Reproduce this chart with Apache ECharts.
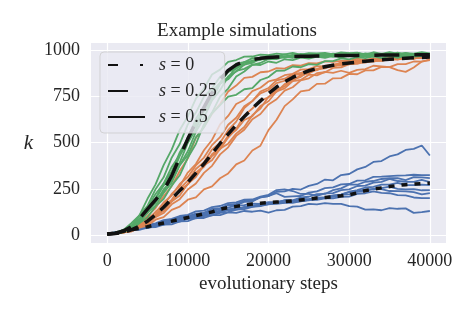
<!DOCTYPE html>
<html>
<head>
<meta charset="utf-8">
<script src="https://cdn.jsdelivr.net/npm/echarts@6/dist/echarts.min.js"></script>
<style>
    html, body { margin: 0; padding: 0; background: #ffffff; }
    #chart { width: 474px; height: 316px; }
</style>
</head>
<body>
<div id="chart"></div>
<script>
// ============================================
// Example simulations — k vs evolutionary steps
// ============================================

const steps = [0, 1000, 2000, 3000, 4000, 5000, 6000, 7000, 8000, 9000, 10000,
    11000, 12000, 13000, 14000, 15000, 16000, 17000, 18000, 19000, 20000,
    21000, 22000, 23000, 24000, 25000, 26000, 27000, 28000, 29000, 30000,
    31000, 32000, 33000, 34000, 35000, 36000, 37000, 38000, 39000, 40000];

const xTicks = [0, 10000, 20000, 30000, 40000];
const yTicks = [0, 250, 500, 750, 1000];

// s = 0 runs (blue)
const blueRuns = [
    [5,14,15,32,35,50,55,70,76,95,94,112,118,132,142,163,168,184,186,204,210,234,236,250,246,266,276,300,296,324,330,355,368,395,400,425,436,460,466,484,430],
    [5,13,14,27,28,42,43,56,58,74,75,92,92,108,108,122,120,130,126,132,121,134,136,154,156,169,166,172,168,169,156,154,137,139,134,146,142,144,120,124,130],
    [5,15,20,33,37,54,58,76,81,99,101,116,120,142,146,162,161,179,181,204,211,226,206,209,211,229,236,254,258,274,276,294,296,314,316,319,321,322,326,324,324],
    [5,9,23,25,38,39,53,57,71,77,93,97,113,115,133,137,148,147,158,159,173,175,188,187,203,207,221,222,243,252,273,272,288,292,303,307,308,297,313,312,308],
    [5,14,19,35,39,58,63,81,87,103,109,128,132,151,157,173,177,191,192,208,217,243,247,238,222,223,212,225,227,243,247,265,267,283,287,303,292,288,287,298,286],
    [5,8,19,23,35,38,50,56,68,73,87,90,102,106,120,124,137,140,152,156,167,168,174,174,184,188,200,203,212,218,234,243,257,260,272,273,282,270,270,273,270],
    [5,14,18,29,34,48,53,65,70,84,88,102,106,118,122,134,138,150,153,162,166,174,176,184,184,192,193,202,206,217,220,234,238,250,253,262,250,247,248,242,243],
    [5,9,20,24,36,42,56,62,76,82,97,103,118,126,142,148,160,162,170,168,178,178,187,186,196,194,202,203,214,218,232,236,247,248,248,238,237,236,232,220,227],
    [5,13,17,29,34,48,54,68,74,88,94,108,112,124,128,138,140,152,156,168,170,178,178,180,182,190,190,198,198,206,208,222,226,236,228,226,216,214,203,200,200]
];

// s = 0.25 runs (orange)
const orangeRuns = [
    [5,11,16,38,58,104,146,210,264,346,414,526,584,656,708,776,808,850,855,880,884,902,900,918,916,929,928,939,936,941,942,953,945,955,951,954,955,963,952,964,965],
    [5,6,19,27,56,78,126,160,222,264,338,384,458,514,598,644,708,730,778,796,830,842,864,871,894,897,913,912,923,925,938,937,948,945,953,952,960,951,960,958,962],
    [5,11,13,32,46,83,107,156,190,251,294,357,394,462,499,567,613,687,724,776,795,836,845,870,876,894,894,909,912,925,927,938,935,945,942,953,949,958,955,962,960],
    [5,6,17,23,48,66,105,130,181,214,277,314,377,404,467,494,548,584,648,684,747,774,816,834,865,874,896,901,916,916,931,929,941,940,949,947,955,953,962,960,963],
    [5,10,13,31,42,77,100,151,184,242,274,332,369,427,464,527,574,647,684,726,744,786,804,840,855,884,891,911,912,925,923,933,932,943,942,951,948,958,955,962,962],
    [5,5,15,19,40,51,83,97,136,154,191,204,247,263,307,333,382,403,457,483,567,623,697,733,777,783,817,818,847,848,871,869,890,890,909,908,924,924,938,937,945],
    [5,10,12,32,44,80,103,154,184,242,273,337,373,437,473,537,568,622,643,697,723,777,793,832,838,867,863,882,877,888,877,893,897,915,912,908,891,882,906,938,950],
    [5,11,14,35,50,90,120,176,214,276,314,376,419,486,529,596,634,696,724,766,784,821,834,866,869,895,896,916,916,934,935,945,943,953,949,958,955,963,959,964,964],
    [5,6,17,21,46,60,97,119,166,194,246,279,336,374,436,474,536,569,626,654,706,734,781,799,836,847,875,880,903,906,924,925,938,938,947,946,954,953,960,956,960]
];

// s = 0.5 runs (green)
const greenRuns = [
    [5,14,26,64,106,196,274,378,462,568,642,738,792,868,894,936,946,964,965,975,972,981,977,985,975,983,982,985,977,987,983,986,977,988,979,989,981,983,980,988,982],
    [5,9,28,48,106,158,248,312,418,492,598,662,748,794,856,884,926,934,956,956,969,964,976,966,979,974,979,968,980,976,982,971,982,976,980,974,986,974,979,974,980],
    [5,12,19,50,85,151,199,277,343,447,523,628,693,778,823,882,899,931,935,955,953,966,961,972,966,972,968,979,968,974,970,980,968,979,974,979,968,979,974,980,974],
    [5,8,23,36,83,119,187,232,318,392,498,572,668,732,818,853,906,920,944,946,962,956,966,961,972,966,972,968,979,969,974,968,979,968,974,970,980,969,974,968,975],
    [5,11,15,40,65,121,159,227,283,378,453,558,633,728,783,857,884,921,930,953,951,964,958,968,962,969,964,974,963,974,968,974,964,976,971,976,966,977,972,978,972],
    [5,7,20,28,65,95,156,194,267,323,418,492,598,662,748,792,857,884,920,930,952,951,964,958,969,964,970,966,972,968,979,968,974,970,976,971,982,971,976,972,978],
    [5,12,17,44,73,131,174,247,293,378,432,528,582,658,702,748,758,788,794,838,854,888,889,911,907,924,920,940,940,955,950,962,956,966,956,969,958,970,964,969,970],
    [5,9,26,44,100,149,222,278,368,432,528,592,688,742,818,842,888,898,921,919,938,931,950,946,959,954,964,958,969,959,970,964,969,964,974,964,976,966,972,968,970],
    [5,12,18,48,80,146,194,267,323,428,502,608,682,768,822,888,904,936,940,960,958,969,964,974,968,979,969,980,974,979,974,984,973,979,974,984,973,984,974,979,978]
];

// mean curves
const blueMean = [5,12,20,28,36,45,55,65,75,85,95,105,115,125,140,148,155,162,168,172,175,178,180,185,190,195,200,203,207,212,218,228,240,248,255,262,268,272,275,278,280];
const orangeMean = [5,8,15,28,48,75,110,150,195,240,285,335,385,440,495,545,595,640,685,725,765,800,828,852,872,888,900,910,918,925,930,935,939,943,947,950,953,956,958,960,962];
const greenMean = [5,10,22,45,88,140,190,240,320,420,520,610,690,770,840,890,920,938,948,955,960,962,964,965,966,967,968,969,970,970,971,971,972,972,973,973,973,974,974,974,975];

const legendNames = ['s = 0', 's = 0.25', 's = 0.5'];

const FONT = 'Liberation Serif';
const COLORS = { blue: '#4c72b0', orange: '#dd8452', green: '#55a868' };

function pairs(values) {
    return steps.map((x, i) => [x, values[i]]);
}

function runSeries(runs, color, z) {
    return runs.map(r => ({
        type: 'line',
        data: pairs(r),
        symbol: 'none',
        silent: true,
        z: z,
        lineStyle: { color: color, width: 1.8 },
        animation: false
    }));
}

function meanSeries(values, dash) {
    return {
        type: 'line',
        data: pairs(values),
        symbol: 'none',
        silent: true,
        z: 10,
        lineStyle: { color: '#111111', width: 3.5, type: dash, cap: 'butt' },
        animation: false
    };
}

const series = [];

// white grid lines
series.push({
    type: 'line',
    data: [],
    silent: true,
    markLine: {
        silent: true,
        z: 1,
        symbol: 'none',
        label: { show: false },
        lineStyle: { color: '#ffffff', width: 1.2, type: 'solid' },
        data: xTicks.map(v => ({ xAxis: v })).concat(yTicks.map(v => ({ yAxis: v }))),
        animation: false
    }
});

series.push(...runSeries(blueRuns, COLORS.blue, 3));
series.push(...runSeries(orangeRuns, COLORS.orange, 4));
series.push(...runSeries(greenRuns, COLORS.green, 5));
series.push(meanSeries(blueMean, [6, 7]));
series.push(meanSeries(orangeMean, [12, 8]));
series.push(meanSeries(greenMean, [25, 15]));

// legend-only entries
const legendDash = [[10, 22, 3, 22], [20, 40], 'solid'];
legendNames.forEach((name, i) => {
    series.push({
        name: name,
        type: 'line',
        data: [],
        symbol: 'none',
        lineStyle: { color: '#111111', width: 3, type: legendDash[i], cap: 'butt' },
        itemStyle: { color: '#111111' }
    });
});

const chart = echarts.init(document.getElementById('chart'), null, { renderer: 'canvas' });

chart.setOption({
    backgroundColor: '#ffffff',
    animation: false,
    textStyle: { fontFamily: FONT },
    title: {
        text: 'Example simulations',
        left: 'center',
        top: 22,
        textStyle: { fontFamily: FONT, fontSize: 19, fontWeight: 'normal', color: '#262626' },
        padding: 0,
        itemGap: 0
    },
    grid: {
        left: 91, top: 43, width: 355, height: 200,
        show: true, backgroundColor: '#eaeaf2', borderWidth: 0
    },
    legend: {
        data: legendNames,
        orient: 'vertical',
        left: 100,
        top: 52,
        z: 30,
        padding: [3, 8, 6, 7],
        itemWidth: 37,
        itemHeight: 14,
        itemGap: 6,
        backgroundColor: 'rgba(234,234,242,0.8)',
        borderColor: 'rgba(204,204,204,0.8)',
        borderWidth: 1,
        borderRadius: 4,
        selectedMode: false,
        itemStyle: { opacity: 0 },
        formatter: name => '{g|}{i|s}' + name.slice(1),
        textStyle: {
            fontFamily: FONT, fontSize: 18, color: '#262626', lineHeight: 20,
            rich: {
                g: { width: 9 },
                i: { fontStyle: 'italic', fontFamily: FONT, fontSize: 18, color: '#262626' }
            }
        }
    },
    xAxis: {
        type: 'value',
        min: -2000,
        max: 42000,
        name: 'evolutionary steps',
        nameLocation: 'middle',
        nameGap: 31,
        nameTextStyle: { fontFamily: FONT, fontSize: 19, color: '#262626' },
        axisLine: { show: false },
        axisTick: { show: false },
        splitLine: { show: false },
        axisLabel: {
            customValues: xTicks,
            formatter: v => String(v),
            margin: 9,
            fontFamily: FONT, fontSize: 18, color: '#262626'
        }
    },
    yAxis: {
        type: 'value',
        min: -43,
        max: 1038,
        name: 'k',
        nameLocation: 'middle',
        nameRotate: 0,
        nameGap: 58,
        nameTextStyle: { fontFamily: FONT, fontSize: 21, fontStyle: 'italic', color: '#262626' },
        axisLine: { show: false },
        axisTick: { show: false },
        splitLine: { show: false },
        axisLabel: {
            customValues: yTicks,
            formatter: v => String(v),
            margin: 11,
            fontFamily: FONT, fontSize: 18, color: '#262626'
        }
    },
    series: series
});
</script>
</body>
</html>
